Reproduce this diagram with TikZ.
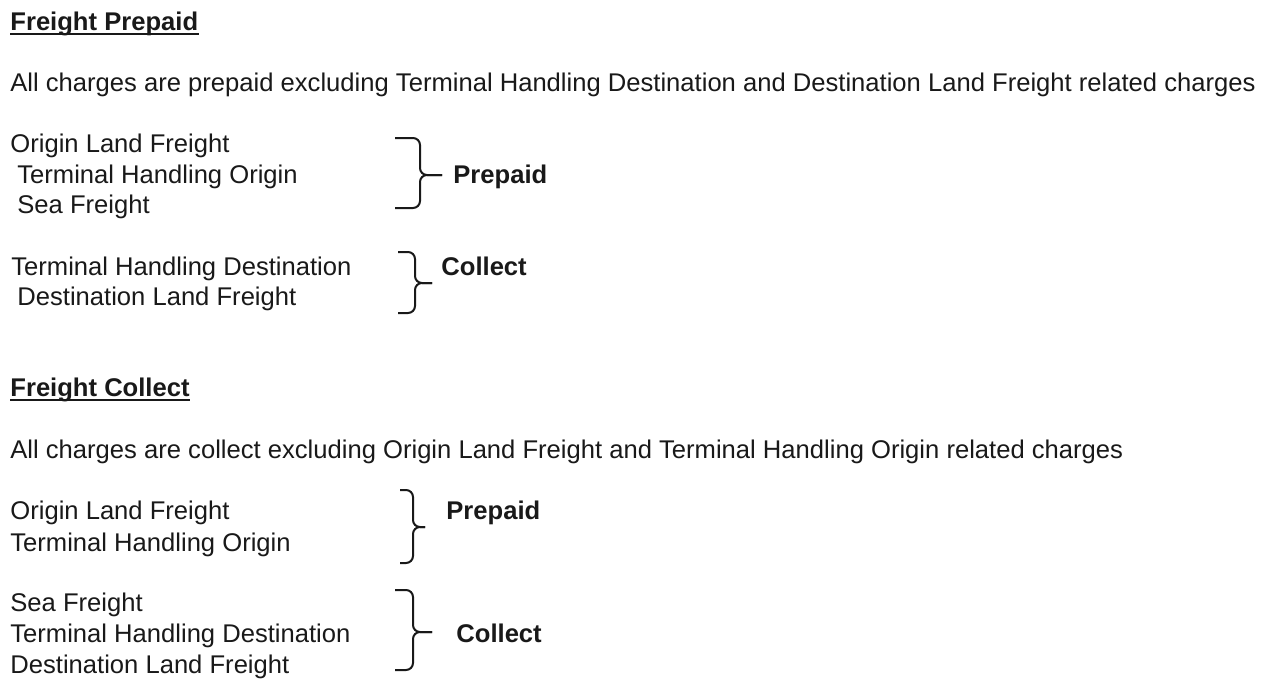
\documentclass[tikz,border=0pt]{standalone}
\usepackage{fontspec}
\setmainfont{Liberation Sans}
\usepackage{xcolor}
\usetikzlibrary{positioning}
\definecolor{ink}{gray}{0.1}
% brace: left end, stem, tip, top, middle, bottom
\newcommand{\chgbrace}[6]{%
  \path[draw, brace] (#1,#4) -- (#2,#4) -- (#2,#5) -- (#3,#5);
  \path[draw, brace] (#3,#5) -- (#2,#5) -- (#2,#6) -- (#1,#6);}

\begin{document}
\begin{tikzpicture}[
    x=0.5pt, y=-0.5pt,
    nosep/.style={inner sep=0},
    item/.style={nosep, anchor=base west, text=ink, font=\fontsize{12.8}{15}\selectfont},
    head/.style={item, font=\fontsize{12.8}{15}\selectfont\bfseries},
    tag/.style={head},
    brace/.style={ink, line width=1pt, rounded corners=3.5}]
\useasboundingbox[fill=white] (0,0) rectangle (1280,685);

% freight prepaid
\node[head] (fp) at (10,30) {Freight Prepaid};
\node[item] (fp-desc) at (10,91) {All charges are prepaid excluding Terminal Handling Destination and Destination Land Freight related charges};
\node[item] (fp-olf) at (10,152) {Origin Land Freight};
\node[item] (fp-tho) at (17,183) {Terminal Handling Origin};
\node[item] (fp-sf)  at (17,213) {Sea Freight};
\node[item] (fp-thd) at (11,275) {Terminal Handling Destination};
\node[item] (fp-dlf) at (17,305) {Destination Land Freight};
\node[tag] (fp-pre) at (453,183) {Prepaid};
\node[tag] (fp-col) at (441,275) {Collect};

% freight collect
\node[head] (fc) at (10,396) {Freight Collect};
\node[item] (fc-desc) at (10,458) {All charges are collect excluding Origin Land Freight and Terminal Handling Origin related charges};
\node[item] (fc-olf) at (10,519) {Origin Land Freight};
\node[item] (fc-tho) at (10,551) {Terminal Handling Origin};
\node[item] (fc-sf)  at (10,611) {Sea Freight};
\node[item] (fc-thd) at (10,642) {Terminal Handling Destination};
\node[item] (fc-dlf) at (10,673) {Destination Land Freight};
\node[tag] (fc-pre) at (446,519) {Prepaid};
\node[tag] (fc-col) at (456,642) {Collect};

\path[draw, ink, line width=1pt] ([yshift=-1.75pt]fp.base west) -- ([yshift=-1.75pt]fp.base east);
\path[draw, ink, line width=1pt] ([yshift=-1.75pt]fc.base west) -- ([yshift=-1.75pt]fc.base east);

\chgbrace{395}{420}{442}{138}{175}{208}
\chgbrace{398}{415}{432}{252}{283}{313}
\chgbrace{400}{413}{425}{490}{527}{563}
\chgbrace{395}{413}{432}{590}{632}{670}

\end{tikzpicture}
\end{document}
